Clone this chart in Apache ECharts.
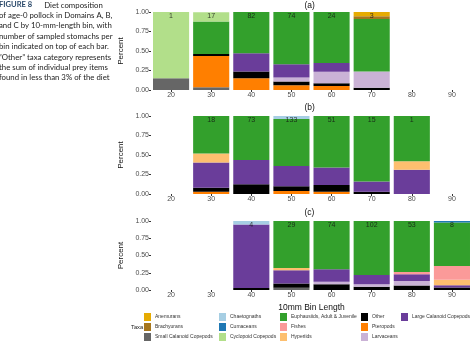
<!DOCTYPE html>
<html><head><meta charset="utf-8">
<script src="https://cdn.jsdelivr.net/npm/echarts@6/dist/echarts.min.js"></script>
<style>html,body{margin:0;padding:0;background:#fff}#c{width:474px;height:345px}</style>
</head><body><div id="c"></div>
<script>
const categories = ['20','30','40','50','60','70','80','90'];
const yTicks = [0, 0.25, 0.5, 0.75, 1];
const taxa = ['Anemurans','Brachyurans','Chaetognaths','Cumaceans','Cyclopoid Copepods','Euphausiids, Adult & Juvenile','Fishes','Hyperiids','Large Calanoid Copepods','Larvaceans','Other','Pteropods','Small Calanoid Copepods'];
const taxaColors = ['#E6AB02','#A6761D','#A6CEE3','#1F78B4','#B2DF8A','#33A02C','#FB9A99','#FDBF6F','#6A3D9A','#CAB2D6','#000000','#FF7F00','#666666'];
const panelTitles = ['(a)','(b)','(c)'];
const countsA = [1,17,82,74,24,3,null,null];
const countsB = [null,18,73,133,51,15,1,null];
const countsC = [null,null,4,29,74,102,53,8];
// rows follow taxa order; columns follow categories
const valuesA = [
  [0,0,0,0,0,0.056,0,0],
  [0,0,0,0,0,0.034,0,0],
  [0,0,0,0,0,0,0,0],
  [0,0,0,0,0,0,0,0],
  [0.85,0.12,0,0,0,0,0,0],
  [0,0.417,0.528,0.67,0.657,0.674,0,0],
  [0,0,0,0,0,0,0,0],
  [0,0,0,0,0,0,0,0],
  [0,0,0.236,0.17,0.11,0,0,0],
  [0,0,0,0.05,0.15,0.206,0,0],
  [0,0.025,0.086,0.05,0.035,0.03,0,0],
  [0,0.40,0.15,0.06,0.05,0,0,0],
  [0.15,0.035,0,0,0,0,0,0]
];
const valuesB = [
  [0,0,0,0,0,0,0,0],
  [0,0,0,0,0,0,0,0],
  [0,0,0,0.04,0,0,0,0],
  [0,0,0,0,0,0,0,0],
  [0,0,0,0,0,0,0,0],
  [0,0.48,0.564,0.60,0.66,0.84,0.58,0],
  [0,0,0,0,0,0,0,0],
  [0,0.115,0,0,0,0,0.11,0],
  [0,0.325,0.312,0.26,0.225,0.13,0.31,0],
  [0,0,0,0,0,0,0,0],
  [0,0.05,0.124,0.06,0.085,0.03,0,0],
  [0,0.03,0,0.04,0.03,0,0,0],
  [0,0,0,0,0,0,0,0]
];
const valuesC = [
  [0,0,0,0,0,0,0,0],
  [0,0,0,0,0,0,0,0],
  [0,0,0.05,0,0,0,0,0],
  [0,0,0,0,0,0,0,0.024],
  [0,0,0,0,0,0,0,0],
  [0,0,0,0.68,0.70,0.784,0.74,0.63],
  [0,0,0,0,0,0,0.03,0.20],
  [0,0,0,0.034,0,0,0,0.08],
  [0,0,0.92,0.19,0.18,0.134,0.10,0.03],
  [0,0,0,0,0.038,0.034,0.063,0],
  [0,0,0.03,0.062,0.082,0.048,0.067,0.038],
  [0,0,0,0,0,0,0,0],
  [0,0,0,0.034,0,0,0,0]
];
const captionLines = [
  'of age-0 pollock in Domains A, B,',
  'and C by 10-mm-length bin, with',
  'number of sampled stomachs per',
  'bin indicated on top of each bar.',
  '\u201COther\u201D taxa category represents',
  'the sum of individual prey items',
  'found in less than 3% of the diet'
];
const legendColumns = [
  ['Anemurans','Brachyurans','Small Calanoid Copepods'],
  ['Chaetognaths','Cumaceans','Cyclopoid Copepods'],
  ['Euphausiids, Adult & Juvenile','Fishes','Hyperiids'],
  ['Other','Pteropods','Larvaceans'],
  ['Large Calanoid Copepods']
];

const panelValues = [valuesA, valuesB, valuesC];
const panelCounts = [countsA, countsB, countsC];
const gridTops = [12, 116, 221];
const gridHeights = [78, 78, 69];
const gridLeft = 151, gridWidth = 321;
const FONT = 'Liberation Sans, Arial, sans-serif';

const grids = [], xAxes = [], yAxes = [], series = [], graphics = [];
for (let p = 0; p < 3; p++) {
  grids.push({left: gridLeft, top: gridTops[p], width: gridWidth, height: gridHeights[p]});
  xAxes.push({
    type: 'category', gridIndex: p, data: categories, boundaryGap: true,
    axisLine: {show: false},
    axisTick: {show: true, alignWithLabel: true, length: 2, lineStyle: {color: '#333'}},
    axisLabel: {color: '#4d4d4d', fontSize: 7, margin: 2, fontFamily: FONT},
    splitLine: {show: false},
    name: p === 2 ? '10mm Bin Length' : '', nameLocation: 'middle', nameGap: 13,
    nameTextStyle: {fontSize: 8.5, color: '#111', fontFamily: FONT}
  });
  yAxes.push({
    type: 'value', gridIndex: p, min: 0, max: 1, interval: 0.25,
    axisLine: {show: false},
    axisTick: {show: true, length: 2, lineStyle: {color: '#333'}},
    axisLabel: {color: '#4d4d4d', fontSize: 7, margin: 2, fontFamily: FONT, formatter: v => v.toFixed(2)},
    splitLine: {show: false},
    name: 'Percent', nameLocation: 'middle', nameGap: 18, nameRotate: 90,
    nameTextStyle: {fontSize: 8, color: '#111', fontFamily: FONT}
  });
  for (let t = taxa.length - 1; t >= 0; t--) {
    series.push({
      type: 'bar', name: taxa[t], xAxisIndex: p, yAxisIndex: p, stack: 'p' + p,
      barWidth: '90%', itemStyle: {color: taxaColors[t]},
      data: panelValues[p][t], animation: false, silent: true
    });
  }
  series.push({
    type: 'scatter', xAxisIndex: p, yAxisIndex: p, symbolSize: 0, animation: false, silent: true,
    data: panelCounts[p].map((c, i) => c == null ? null : {value: [categories[i], 1], count: c}).filter(d => d),
    label: {show: true, position: 'bottom', distance: 1, fontSize: 7, color: '#111', fontFamily: FONT,
      formatter: d => String(d.data.count)}
  });
  graphics.push({type: 'text', left: gridLeft + gridWidth / 2 - 7, top: [1, 103, 208][p],
    style: {text: panelTitles[p], fontSize: 8.5, fill: '#111', font: '8.5px ' + FONT}});
}

// caption
graphics.push({type: 'text', left: -1, top: 1, style: {
  rich: {f: {fontSize: 7.6, fontWeight: 'bold', fill: '#2c4a6b', fontFamily: 'Lato', letterSpacing: 1.2},
         n: {fontSize: 7.8, fill: '#222', fontFamily: 'Lato'}},
  text: '{f|FIGURE 8}{n|      Diet composition}'
}});
captionLines.forEach((line, i) => {
  graphics.push({type: 'text', left: -1, top: 1 + 10.4 * (i + 1), style: {text: line, fontSize: 7.8, fill: '#222', fontFamily: 'Lato'}});
});
graphics.push({type: 'text', left: 131, top: 324, style: {text: 'Taxa', fontSize: 5.8, fill: '#222', fontFamily: FONT}});

const legendX = [144, 219, 280, 361, 401];
const legends = legendColumns.map((col, i) => ({
  data: col.map(n => ({name: n, icon: 'rect'})), orient: 'vertical', left: legendX[i], top: 313,
  itemWidth: 7, itemHeight: 8, itemGap: 2, padding: 0, selectedMode: false,
  textStyle: {fontSize: 5, color: '#333', fontFamily: FONT, padding: [0, 0, 0, -1]}
}));

const chart = echarts.init(document.getElementById('c'), null, {renderer: 'canvas'});
chart.setOption({
  animation: false, backgroundColor: '#fff',
  grid: grids, xAxis: xAxes, yAxis: yAxes, series: series, legend: legends, graphic: graphics
});
</script></body></html>
